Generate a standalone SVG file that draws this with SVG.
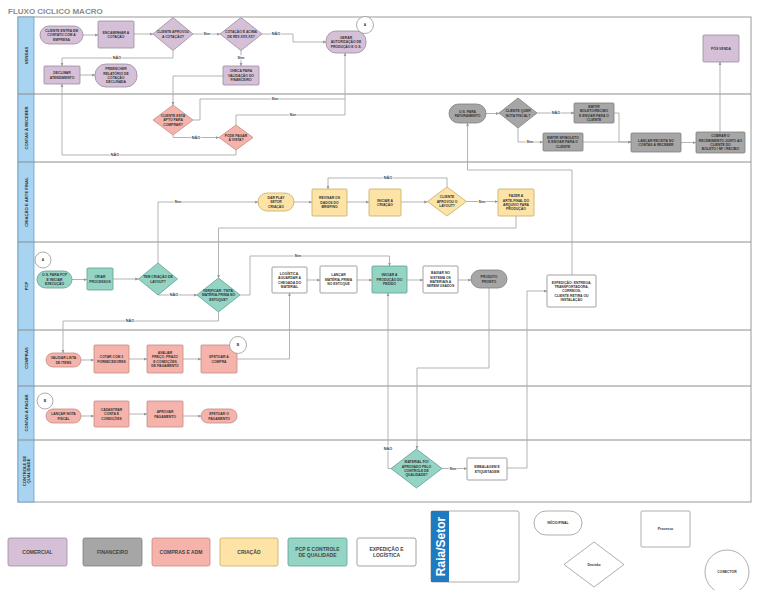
<svg xmlns="http://www.w3.org/2000/svg" width="768" height="590" viewBox="0 0 768 590">
<defs>
<marker id="ah" viewBox="0 0 6 6" refX="5.5" refY="3" markerWidth="4" markerHeight="4" orient="auto"><path d="M0,0.5 L6,3 L0,5.5 z" fill="#999"/></marker>
<style>
.t{font-family:"Liberation Sans",Arial,sans-serif;font-weight:bold;font-size:3.4px;fill:#333;text-anchor:middle}
.lb{font-family:"Liberation Sans",Arial,sans-serif;font-weight:bold;font-size:3.8px;fill:#444;text-anchor:middle;stroke:#fff;stroke-width:1.6px;paint-order:stroke}
.ln{font-family:"Liberation Sans",Arial,sans-serif;font-weight:bold;font-size:4.2px;fill:#333;text-anchor:middle}
.lg{font-family:"Liberation Sans",Arial,sans-serif;font-weight:bold;font-size:5px;fill:#444;text-anchor:middle}
.c{fill:none;stroke:#aaa;stroke-width:0.9}
.ca{fill:none;stroke:#aaa;stroke-width:0.9;marker-end:url(#ah)}
.pu{fill:#d6c0d8;stroke:#9a8a9e;stroke-width:0.8}
.gr{fill:#a6a6a6;stroke:#7f7f7f;stroke-width:0.8}
.pk{fill:#f6b3ab;stroke:#c38a83;stroke-width:0.8}
.ye{fill:#fde3a6;stroke:#c8aa66;stroke-width:0.8}
.gn{fill:#93d4c5;stroke:#5f9f91;stroke-width:0.8}
.wh{fill:#fff;stroke:#8a8a8a;stroke-width:0.8}
.cn{fill:#fff;stroke:#999;stroke-width:0.8}
.sep{stroke:#8c8c8c;stroke-width:1}
</style>
</defs>
<rect width="768" height="590" fill="#fff"/>
<text x="8" y="14" font-family="Liberation Sans,Arial,sans-serif" font-weight="bold" font-size="8" fill="#8c8c8c">FLUXO CICLICO MACRO</text>

<g id="pool">
<rect x="18" y="17" width="733" height="485" fill="#fff" stroke="#9a9a9a" stroke-width="1"/>
<rect x="18" y="17" width="16" height="485" fill="#a9d4f1" stroke="#6f9fc4" stroke-width="0.8"/>
<line class="sep" x1="18" y1="94" x2="751" y2="94"/>
<line class="sep" x1="18" y1="162" x2="751" y2="162"/>
<line class="sep" x1="18" y1="242" x2="751" y2="242"/>
<line class="sep" x1="18" y1="330" x2="751" y2="330"/>
<line class="sep" x1="18" y1="386" x2="751" y2="386"/>
<line class="sep" x1="18" y1="440" x2="751" y2="440"/>
<text class="ln" transform="translate(27.5,55.5) rotate(-90)">VENDAS</text>
<text class="ln" transform="translate(27.5,128) rotate(-90)">CONTAS À RECEBER</text>
<text class="ln" transform="translate(27.5,202) rotate(-90)">CRIAÇÃO E ARTE FINAL</text>
<text class="ln" transform="translate(27.5,286) rotate(-90)">PCP</text>
<text class="ln" transform="translate(27.5,358) rotate(-90)">COMPRAS</text>
<text class="ln" transform="translate(27.5,413) rotate(-90)">CONTAS A PAGAR</text>
<text class="ln" transform="translate(25.5,471) rotate(-90)"><tspan x="0" y="0">CONTROLE DE</tspan><tspan x="0" y="4.6">QUALIDADE</tspan></text>
</g>

<g id="connectors">
<path class="ca" d="M83,35 H98"/>
<path class="ca" d="M134,34 H153"/>
<path class="ca" d="M193,34 H220"/><text class="lb" x="207" y="35.3">Sim</text>
<path class="ca" d="M262,34 H293 V42 H326"/><text class="lb" x="276" y="35.3">NÃO</text>
<path class="ca" d="M241,50.5 V66"/><text class="lb" x="241" y="59">Sim</text>
<path class="ca" d="M173,50.5 V58 H62 V66"/><text class="lb" x="117" y="59.3">NÃO</text>
<path class="ca" d="M80,75 H95"/>
<path class="ca" d="M223,76 H173 V105"/>
<path class="ca" d="M193,120 H200 V99 H345 V53"/><text class="lb" x="275" y="100.3">Sim</text>
<path class="c" d="M236,125 V115 H345 V99"/><text class="lb" x="293" y="116.3">Sim</text>
<path class="ca" d="M173,135 V137.5 H219"/><text class="lb" x="196" y="138.8">NÃO</text>
<path class="ca" d="M236,150 V155 H62 V84"/><text class="lb" x="115" y="156.3">NÃO</text>
<path class="ca" d="M486,113.5 H499"/>
<path class="ca" d="M537,113 H574"/><text class="lb" x="556" y="114.3">NÃO</text>
<path class="ca" d="M518,128 V142 H543"/><text class="lb" x="530" y="143.3">Sim</text>
<path class="ca" d="M614,113 H619 V142 H631"/>
<path class="ca" d="M583,142 H631"/>
<path class="ca" d="M681,142.5 H696"/>
<path class="ca" d="M720,132 V62"/>
<path class="ca" d="M572,275 V170 H467.5 V123"/>
<path class="ca" d="M294,202 H312"/>
<path class="ca" d="M347,202 H369"/>
<path class="ca" d="M401,202 H427.5"/>
<path class="ca" d="M466.5,201.5 H498"/><text class="lb" x="482" y="202.8">Sim</text>
<path class="ca" d="M447,187 V178 H328 V189"/><text class="lb" x="388" y="179.3">NÃO</text>
<path class="ca" d="M516,216 V228 H218.5 V278"/>
<path class="ca" d="M158,263 V202 H258"/><text class="lb" x="178" y="203.3">Sim</text>
<path class="ca" d="M72,279.5 H87"/>
<path class="ca" d="M113,279 H138.5"/>
<path class="ca" d="M158,295 H197"/><text class="lb" x="174" y="296.3">NÃO</text>
<path class="ca" d="M218.5,312 V321 H63 V353"/><text class="lb" x="130" y="322.3">NÃO</text>
<path class="ca" d="M240,295 H250 V256 H389.5 V266"/><text class="lb" x="298" y="257.3">Sim</text>
<path class="ca" d="M307,280 H320"/>
<path class="ca" d="M357,280 H372"/>
<path class="ca" d="M407,280 H423"/>
<path class="ca" d="M458,280 H471"/>
<path class="ca" d="M489,288 V368 H417 V449"/>
<path class="ca" d="M391,468.5 H388 V293"/><text class="lb" x="388" y="450">NÃO</text>
<path class="ca" d="M442,468.5 H467"/><text class="lb" x="453" y="469.8">Sim</text>
<path class="ca" d="M507,468 H527 V291 H547"/>
<path class="ca" d="M237,359 H289.5 V293"/>
<path class="ca" d="M81,360 H94"/>
<path class="ca" d="M129,359 H147"/>
<path class="ca" d="M183,359 H201"/>
<path class="ca" d="M81,416 H94"/>
<path class="ca" d="M129,414 H147"/>
<path class="ca" d="M183,416 H201"/>
</g>

<g id="v1"><rect class="pu" x="40" y="26" width="43" height="18" rx="9"/><text class="t"><tspan x="61.5" y="31.9">CLIENTE ENTRA EM</tspan><tspan x="61.5" y="36.3">CONTATO COM A</tspan><tspan x="61.5" y="40.7">EMPRESA</tspan></text></g>
<g id="v2"><rect class="pu" x="98" y="21" width="36" height="27" rx="1"/><text class="t"><tspan x="116" y="33.6">ENCAMINHAR A</tspan><tspan x="116" y="38">COTAÇÃO</tspan></text></g>
<g id="d1"><polygon class="pu" points="153,34 173,17.5 193,34 173,50.5"/><text class="t"><tspan x="173" y="33.1">CLIENTE APROVOU</tspan><tspan x="173" y="37.5">A COTAÇÃO?</tspan></text></g>
<g id="d2"><polygon class="pu" points="220,34 241,17.5 262,34 241,50.5"/><text class="t"><tspan x="241" y="33.1">COTAÇÃO É ACIMA</tspan><tspan x="241" y="37.5">DE R$X.XXX,XX?</tspan></text></g>
<g id="v3"><rect class="pu" x="326" y="31" width="40" height="22" rx="10"/><text class="t"><tspan x="346" y="38.9">GERAR</tspan><tspan x="346" y="43.3">AUTORIZAÇÃO DE</tspan><tspan x="346" y="47.7">PRODUÇÃO E O.S.</tspan></text></g>
<g id="connA1"><circle class="cn" cx="365" cy="25" r="8.5"/><text class="t" x="365" y="26.3">A</text></g>
<g id="v4"><rect class="pu" x="703" y="35" width="36" height="27" rx="1"/><text class="t" x="721" y="49.8">PÓS VENDA</text></g>
<g id="v5"><rect class="pu" x="44" y="66" width="36" height="18" rx="1"/><text class="t"><tspan x="62" y="74.1">DECLINAR</tspan><tspan x="62" y="78.5">ATENDIMENTO</tspan></text></g>
<g id="v6"><rect class="pu" x="95" y="64" width="42" height="23" rx="11"/><text class="t"><tspan x="116" y="70.2">PREENCHER</tspan><tspan x="116" y="74.6">RELATÓRIO DE</tspan><tspan x="116" y="79">COTAÇÃO</tspan><tspan x="116" y="83.4">DECLINADA</tspan></text></g>
<g id="v7"><rect class="pu" x="223" y="66" width="36" height="19" rx="1"/><text class="t"><tspan x="241" y="72.4">CHECA PARA</tspan><tspan x="241" y="76.8">VALIDAÇÃO DO</tspan><tspan x="241" y="81.2">FINANCEIRO</tspan></text></g>

<g id="d3"><polygon class="pk" points="153,120 173,105 193,120 173,135"/><text class="t"><tspan x="173" y="116.9">CLIENTE ESTÁ</tspan><tspan x="173" y="121.3">APTO PARA</tspan><tspan x="173" y="125.7">COMPRAR?</tspan></text></g>
<g id="d4"><polygon class="pk" points="219,137.5 236,125 253,137.5 236,150"/><text class="t"><tspan x="236" y="136.6">PODE PAGAR</tspan><tspan x="236" y="141">À VISTA?</tspan></text></g>
<g id="f1"><rect class="gr" x="449" y="104" width="37" height="19" rx="9.5"/><text class="t"><tspan x="467.5" y="112.6">O.S. PARA</tspan><tspan x="467.5" y="117">FATURAMENTO</tspan></text></g>
<g id="d5"><polygon class="gr" points="499,113 518,98 537,113 518,128"/><text class="t"><tspan x="518" y="112.1">CLIENTE QUER</tspan><tspan x="518" y="116.5">NOTA FISCAL?</tspan></text></g>
<g id="f2"><rect class="gr" x="574" y="103" width="40" height="20" rx="1"/><text class="t"><tspan x="594" y="107.7">EMITIR</tspan><tspan x="594" y="112.1">BOLETO/RECIBO</tspan><tspan x="594" y="116.5">E ENVIAR PARA O</tspan><tspan x="594" y="120.9">CLIENTE</tspan></text></g>
<g id="f3"><rect class="gr" x="543" y="133" width="40" height="18" rx="1"/><text class="t"><tspan x="563" y="138.9">EMITIR NF/BOLETO</tspan><tspan x="563" y="143.3">E ENVIAR PARA O</tspan><tspan x="563" y="147.7">CLIENTE</tspan></text></g>
<g id="f4"><rect class="gr" x="631" y="133" width="50" height="19" rx="1"/><text class="t"><tspan x="656" y="141.6">LANÇAR RECEITA NO</tspan><tspan x="656" y="146">CONTAS À RECEBER</tspan></text></g>
<g id="f5"><rect class="gr" x="696" y="132" width="49" height="21" rx="1"/><text class="t"><tspan x="720.5" y="137.2">COBRAR O</tspan><tspan x="720.5" y="141.6">RECEBIMENTO JUNTO AO</tspan><tspan x="720.5" y="146">CLIENTE DO</tspan><tspan x="720.5" y="150.4">BOLETO / NF / RECIBO</tspan></text></g>

<g id="c1"><rect class="ye" x="258" y="193" width="36" height="18" rx="9"/><text class="t"><tspan x="276" y="198.9">DAR PLAY</tspan><tspan x="276" y="203.3">SETOR</tspan><tspan x="276" y="207.7">CRIAÇÃO</tspan></text></g>
<g id="c2"><rect class="ye" x="312" y="189" width="35" height="27" rx="1"/><text class="t"><tspan x="329.5" y="199.4">REVISAR OS</tspan><tspan x="329.5" y="203.8">DADOS DO</tspan><tspan x="329.5" y="208.2">BRIEFING</tspan></text></g>
<g id="c3"><rect class="ye" x="369" y="189" width="32" height="27" rx="1"/><text class="t"><tspan x="385" y="201.6">INICIAR A</tspan><tspan x="385" y="206">CRIAÇÃO</tspan></text></g>
<g id="d6"><polygon class="ye" points="427.5,201.5 447,187 466.5,201.5 447,216"/><text class="t"><tspan x="447" y="198.4">CLIENTE</tspan><tspan x="447" y="202.8">APROVOU O</tspan><tspan x="447" y="207.2">LAYOUT?</tspan></text></g>
<g id="c4"><rect class="ye" x="498" y="189" width="36" height="27" rx="1"/><text class="t"><tspan x="516" y="197.2">FAZER A</tspan><tspan x="516" y="201.6">ARTE-FINAL DO</tspan><tspan x="516" y="206">ARQUIVO PARA</tspan><tspan x="516" y="210.4">PRODUÇÃO</tspan></text></g>

<g id="connA2"><circle class="cn" cx="43" cy="260" r="8"/><text class="t" x="43" y="261.3">A</text></g>
<g id="p1"><rect class="gn" x="37" y="271" width="35" height="17" rx="8.5"/><text class="t"><tspan x="54.5" y="276.4">O.S. PARA PCP</tspan><tspan x="54.5" y="280.8">E INICIAR</tspan><tspan x="54.5" y="285.2">EXECUÇÃO</tspan></text></g>
<g id="p2"><rect class="gn" x="87" y="268" width="26" height="22" rx="1"/><text class="t"><tspan x="100" y="278.1">CRIAR</tspan><tspan x="100" y="282.5">PROCESSOS</tspan></text></g>
<g id="d7"><polygon class="gn" points="138.5,279 158,263 177.5,279 158,295"/><text class="t"><tspan x="158" y="278.1">TEM CRIAÇÃO DE</tspan><tspan x="158" y="282.5">LAYOUT?</tspan></text></g>
<g id="d8"><polygon class="gn" points="197,295 218.5,278 240,295 218.5,312"/><text class="t"><tspan x="218.5" y="291.9">VERIFICAR: TINTA,</tspan><tspan x="218.5" y="296.3">MATÉRIA-PRIMA NO</tspan><tspan x="218.5" y="300.7">ESTOQUE?</tspan></text></g>
<g id="p3"><rect class="wh" x="272" y="267" width="35" height="26" rx="1"/><text class="t"><tspan x="289.5" y="274.7">LOGÍSTICA,</tspan><tspan x="289.5" y="279.1">AGUARDAR A</tspan><tspan x="289.5" y="283.5">CHEGADA DO</tspan><tspan x="289.5" y="287.9">MATERIAL</tspan></text></g>
<g id="p4"><rect class="wh" x="320" y="266" width="37" height="27" rx="1"/><text class="t"><tspan x="338.5" y="276.4">LANÇAR</tspan><tspan x="338.5" y="280.8">MATÉRIA-PRIMA</tspan><tspan x="338.5" y="285.2">NO ESTOQUE</tspan></text></g>
<g id="p5"><rect class="gn" x="372" y="266" width="35" height="27" rx="1"/><text class="t"><tspan x="389.5" y="276.4">INICIAR A</tspan><tspan x="389.5" y="280.8">PRODUÇÃO DO</tspan><tspan x="389.5" y="285.2">PEDIDO</tspan></text></g>
<g id="p6"><rect class="wh" x="423" y="266" width="35" height="27" rx="1"/><text class="t"><tspan x="440.5" y="274.2">BAIXAR NO</tspan><tspan x="440.5" y="278.6">SISTEMA OS</tspan><tspan x="440.5" y="283">MATERIAIS A</tspan><tspan x="440.5" y="287.4">SEREM USADOS</tspan></text></g>
<g id="p7"><rect class="gr" x="471" y="270" width="36" height="18" rx="9"/><text class="t"><tspan x="489" y="278.1">PRODUTO</tspan><tspan x="489" y="282.5">PRONTO</tspan></text></g>
<g id="p8"><rect class="wh" x="547" y="275" width="49" height="32" rx="1"/><text class="t"><tspan x="571.5" y="283.5">EXPEDIÇÃO: ENTREGA,</tspan><tspan x="571.5" y="287.9">TRANSPORTADORA,</tspan><tspan x="571.5" y="292.3">CORREIOS,</tspan><tspan x="571.5" y="296.7">CLIENTE RETIRA OU</tspan><tspan x="571.5" y="301.1">INSTALAÇÃO</tspan></text></g>

<g id="k1"><rect class="pk" x="46" y="353" width="35" height="14" rx="7"/><text class="t"><tspan x="63.5" y="359.1">VALIDAR LISTA</tspan><tspan x="63.5" y="363.5">DE ITENS</tspan></text></g>
<g id="k2"><rect class="pk" x="94" y="345" width="35" height="28" rx="1"/><text class="t"><tspan x="111.5" y="358.1">COTAR COM 3</tspan><tspan x="111.5" y="362.5">FORNECEDORES</tspan></text></g>
<g id="k3"><rect class="pk" x="147" y="345" width="36" height="28" rx="1"/><text class="t"><tspan x="165" y="353.7">AVALIAR</tspan><tspan x="165" y="358.1">PREÇO, PRAZO</tspan><tspan x="165" y="362.5">E CONDIÇÕES</tspan><tspan x="165" y="366.9">DE PAGAMENTO</tspan></text></g>
<g id="k4"><rect class="pk" x="201" y="345" width="36" height="28" rx="1"/><text class="t"><tspan x="219" y="358.1">EFETUAR A</tspan><tspan x="219" y="362.5">COMPRA</tspan></text></g>
<g id="connB1"><circle class="cn" cx="238" cy="345" r="8.5"/><text class="t" x="238" y="346.3">B</text></g>

<g id="connB2"><circle class="cn" cx="45" cy="401" r="8"/><text class="t" x="45" y="402.3">B</text></g>
<g id="q1"><rect class="pk" x="46" y="409" width="35" height="14" rx="7"/><text class="t"><tspan x="63.5" y="415.1">LANÇAR NOTA</tspan><tspan x="63.5" y="419.5">FISCAL</tspan></text></g>
<g id="q2"><rect class="pk" x="94" y="401" width="35" height="26" rx="1"/><text class="t"><tspan x="111.5" y="410.9">CADASTRAR</tspan><tspan x="111.5" y="415.3">CONTA E</tspan><tspan x="111.5" y="419.7">CONDIÇÕES</tspan></text></g>
<g id="q3"><rect class="pk" x="147" y="401" width="36" height="26" rx="1"/><text class="t"><tspan x="165" y="413.1">APROVAR</tspan><tspan x="165" y="417.5">PAGAMENTO</tspan></text></g>
<g id="q4"><rect class="pk" x="201" y="409" width="36" height="14" rx="7"/><text class="t"><tspan x="219" y="415.1">EFETUAR O</tspan><tspan x="219" y="419.5">PAGAMENTO</tspan></text></g>

<g id="d9"><polygon class="gn" points="391,468.5 416.5,449 442,468.5 416.5,488"/><text class="t"><tspan x="416.5" y="463.2">MATERIAL FOI</tspan><tspan x="416.5" y="467.6">APROVADO PELO</tspan><tspan x="416.5" y="472">CONTROLE DE</tspan><tspan x="416.5" y="476.4">QUALIDADE?</tspan></text></g>
<g id="e1"><rect class="wh" x="467" y="458" width="40" height="22" rx="1"/><text class="t"><tspan x="487" y="468.1">EMBALAGEM E</tspan><tspan x="487" y="472.5">ETIQUETAGEM</tspan></text></g>

<g id="legend">
<rect class="pu" x="8" y="538" width="59" height="28" rx="2"/><text class="lg" x="37.5" y="553.7">COMERCIAL</text>
<rect class="gr" x="83" y="538" width="59" height="28" rx="2"/><text class="lg" x="112.5" y="553.7">FINANCEIRO</text>
<rect class="pk" x="152" y="538" width="58" height="28" rx="2"/><text class="lg" x="181" y="553.7">COMPRAS E ADM</text>
<rect class="ye" x="220" y="538" width="58" height="28" rx="2"/><text class="lg" x="249" y="553.7">CRIAÇÃO</text>
<rect class="gn" x="288" y="538" width="59" height="28" rx="2"/><text class="lg"><tspan x="317.5" y="550.8">PCP E CONTROLE</tspan><tspan x="317.5" y="556.8">DE QUALIDADE</tspan></text>
<rect class="wh" x="357" y="538" width="59" height="28" rx="2"/><text class="lg"><tspan x="386.5" y="550.8">EXPEDIÇÃO E</tspan><tspan x="386.5" y="556.8">LOGÍSTICA</tspan></text>
<rect x="431" y="511" width="88" height="71" rx="2" fill="#fff" stroke="#999" stroke-width="0.8"/>
<rect x="431" y="511" width="18" height="71" fill="#1f7bc0"/>
<text transform="translate(444.5,546.5) rotate(-90)" font-family="Liberation Sans,Arial,sans-serif" font-weight="bold" font-size="12" fill="#fff" text-anchor="middle">Raia/Setor</text>
<rect class="cn" x="534" y="511" width="48" height="24" rx="12"/><text class="t" x="558" y="524.3">INÍCIO/FINAL</text>
<polygon class="cn" points="564,564.5 594,542 624,564.5 594,587"/><text class="t" x="594" y="565.8">Decisão</text>
<rect class="cn" x="641" y="511" width="49" height="36" rx="1"/><text class="t" x="665.5" y="530.3">Processo</text>
<circle class="cn" cx="727" cy="572" r="22"/><text class="t" x="727" y="573.3">CONECTOR</text>
</g>
</svg>
